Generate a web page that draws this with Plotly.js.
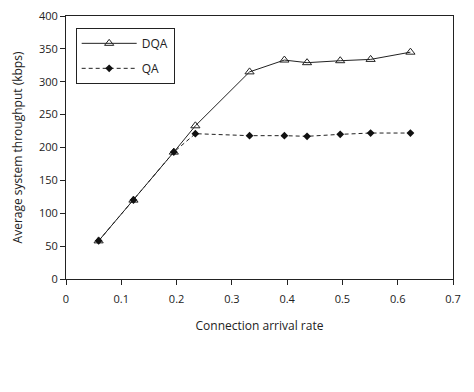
<!DOCTYPE html>
<html><head><meta charset="utf-8">
<script src="https://cdn.plot.ly/plotly-3.0.1.min.js"></script>
<style>html,body{margin:0;padding:0;background:#fff}#c{width:474px;height:392px}</style>
</head><body><div id="c"></div>
<script>
const rate = [0.059, 0.122, 0.195, 0.234, 0.332, 0.395, 0.436, 0.496, 0.551, 0.623];
const dqa = [58, 120, 193, 233, 315, 333, 329, 332, 334, 345];
const qa  = [58, 120, 193, 221, 218, 218, 217, 220, 222, 222];
const xTicks = [0, 0.1, 0.2, 0.3, 0.4, 0.5, 0.6, 0.7];
const yTicks = [0, 50, 100, 150, 200, 250, 300, 350, 400];

const ff = 'Open Sans, sans-serif';
const font = {family: ff, size: 11, color: '#222'};
const traces = [
  {x: rate, y: dqa, name: 'DQA', mode: 'lines+markers', type: 'scatter', legendgroup: 'a',
   line: {color: '#222', width: 1},
   marker: {symbol: 'triangle-up-open', size: 8, color: '#222', line: {width: 1, color: '#222'}}},
  {x: rate, y: qa, name: 'QA', mode: 'lines+markers', type: 'scatter', legendgroup: 'b',
   line: {color: '#222', width: 1, dash: '4px,3px'},
   marker: {symbol: 'diamond', size: 6, color: '#111'}}
];
const axisCommon = {showline: true, linecolor: '#222', linewidth: 1, mirror: true,
  ticks: 'outside', ticklen: 5, tickcolor: '#222', showgrid: false, zeroline: false,
  tickfont: font};
const layout = {
  width: 474, height: 392,
  margin: {l: 66, r: 21, t: 16, b: 113},
  paper_bgcolor: '#fff', plot_bgcolor: '#fff',
  font: font,
  showlegend: true,
  legend: {x: 0.025, y: 0.955, xanchor: 'left', yanchor: 'top',
    traceorder: 'grouped', tracegroupgap: 6, itemwidth: 55, entrywidth: 75,
    bordercolor: '#222', borderwidth: 1, bgcolor: '#fff',
    font: {family: ff, size: 12, color: '#222'}},
  xaxis: Object.assign({}, axisCommon, {range: [0, 0.7], tickvals: xTicks,
    ticktext: xTicks.map(String), ticklabelstandoff: 5,
    title: {text: 'Connection arrival rate', font: {family: ff, size: 12, color: '#222'}, standoff: 16}}),
  yaxis: Object.assign({}, axisCommon, {range: [0, 400], tickvals: yTicks,
    title: {text: 'Average system throughput (kbps)', font: {family: ff, size: 12, color: '#222'}, standoff: 13}})
};
Plotly.newPlot('c', traces, layout, {displayModeBar: false, staticPlot: true});
</script></body></html>
